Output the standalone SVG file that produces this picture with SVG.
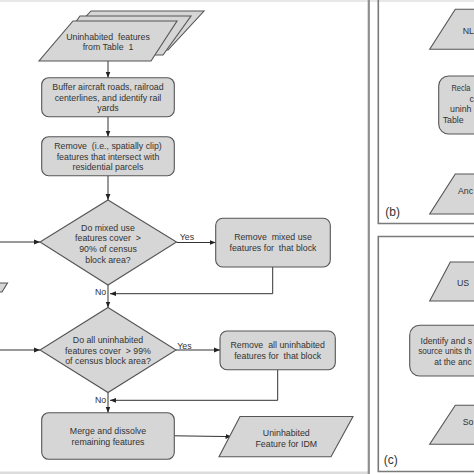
<svg xmlns="http://www.w3.org/2000/svg" width="474" height="474" viewBox="0 0 474 474">
<defs>
<marker id="ah" viewBox="0 0 10 10" refX="10" refY="5" markerWidth="6" markerHeight="6" orient="auto" markerUnits="userSpaceOnUse">
<path d="M0,1 L10,5 L0,9 z" fill="#222"/>
</marker>
<style>
.s{fill:#d6d6d6;stroke:#555;stroke-width:1.1}
.t{font-family:"Liberation Sans",Arial,sans-serif;font-size:8.8px;fill:#333;text-anchor:middle;white-space:pre}
.ts{font-family:"Liberation Sans",Arial,sans-serif;font-size:8.8px;fill:#333;text-anchor:start}
.lb{font-family:"Liberation Sans",Arial,sans-serif;font-size:12px;fill:#333}
.c{fill:none;stroke:#333;stroke-width:1}
.ca{fill:none;stroke:#333;stroke-width:1;marker-end:url(#ah)}
.fr{fill:none;stroke:#7a7a7a;stroke-width:1.6}
</style>
</defs>
<rect width="474" height="474" fill="#fff"/>
<rect x="0" y="0" width="474" height="2" fill="#e8e8e8"/>
<rect x="0" y="471.5" width="368" height="2.5" fill="#dcdcdc"/>
<line x1="368.8" y1="0" x2="368.8" y2="474" stroke="#8f8f8f" stroke-width="2.2"/>
<g id="frames">
<polyline class="fr" points="474,223.5 378.3,223.5 378.3,0"/>
<polyline class="fr" points="474,236.5 378.3,236.5 378.3,471.5 474,471.5"/>
</g>
<g id="connectors">
<line class="ca" x1="108" y1="61" x2="108" y2="77.7"/>
<line class="ca" x1="108" y1="116.7" x2="108" y2="136.7"/>
<line class="ca" x1="108" y1="175.7" x2="108" y2="200"/>
<line class="ca" x1="108" y1="285" x2="108" y2="307.5"/>
<line class="ca" x1="108" y1="392.5" x2="108" y2="412.7"/>
<line class="ca" x1="0" y1="242" x2="40" y2="242"/>
<line class="ca" x1="0" y1="350" x2="40" y2="350"/>
<line class="ca" x1="176.5" y1="242.5" x2="215.7" y2="242.5"/>
<line class="ca" x1="176" y1="350" x2="220" y2="350"/>
<polyline class="ca" points="272.7,267 272.7,293.7 110,293.7"/>
<polyline class="ca" points="277.7,369.7 277.7,400.3 110,400.3"/>
<line class="ca" x1="174.3" y1="435.8" x2="231.5" y2="436.6"/>
<text class="t" x="187" y="240">Yes</text>
<text class="t" x="184.5" y="348.5">Yes</text>
<text class="t" x="100.5" y="295.2">No</text>
<text class="t" x="100.5" y="402.5">No</text>
</g>
<g id="edge-shape">
<polyline class="s" points="0,283 7.5,283 2,292 0,292"/>
</g>
<g id="input">
<polygon class="s" points="91,11 204,11 168,50 55,50"/>
<polygon class="s" points="80,16 191,16 163,55 52,55"/>
<polygon class="s" points="73,21 177,21 151,61 39,61"/>
<text class="t" x="108" y="39.9">Uninhabited  features</text>
<text class="t" x="108" y="50.2">from Table  1</text>
</g>
<g id="buffer">
<rect class="s" x="41.7" y="77.7" width="132.6" height="39" rx="7"/>
<text class="t" x="108" y="89.9">Buffer aircraft roads, railroad</text>
<text class="t" x="108" y="100.5">centerlines, and identify rail</text>
<text class="t" x="108" y="110.9">yards</text>
</g>
<g id="clip">
<rect class="s" x="41.7" y="136.7" width="132.6" height="39" rx="7"/>
<text class="t" x="108" y="148.9">Remove  (i.e., spatially clip)</text>
<text class="t" x="108" y="159.5">features that intersect with</text>
<text class="t" x="108" y="169.9">residential parcels</text>
</g>
<g id="decision1">
<polygon class="s" points="108,200 176.5,242 108,285 40,242"/>
<text class="t" x="108" y="230.9">Do mixed use</text>
<text class="t" x="108" y="241.3">features cover  &gt;</text>
<text class="t" x="108" y="251.9">90% of census</text>
<text class="t" x="108" y="262.5">block area?</text>
</g>
<g id="remove-mixed">
<rect class="s" x="215.7" y="218.3" width="114.6" height="48.7" rx="7"/>
<text class="t" x="273" y="239.9">Remove  mixed use</text>
<text class="t" x="273" y="250.9">features for  that block</text>
</g>
<g id="decision2">
<polygon class="s" points="108,307.5 176,350 108,392.5 40,350"/>
<text class="t" x="108" y="342.5">Do all uninhabited</text>
<text class="t" x="108" y="353.5">features cover  &gt; 99%</text>
<text class="t" x="108" y="364.2">of census block area?</text>
</g>
<g id="remove-all">
<rect class="s" x="220" y="331" width="115.3" height="38.7" rx="7"/>
<text class="t" x="277.7" y="347.9">Remove  all uninhabited</text>
<text class="t" x="277.7" y="358.5">features for  that block</text>
</g>
<g id="merge">
<rect class="s" x="41.7" y="412.7" width="132.6" height="46.6" rx="7"/>
<text class="t" x="108" y="433.9">Merge and dissolve</text>
<text class="t" x="108" y="444.5">remaining features</text>
</g>
<g id="output">
<polygon class="s" points="240,416.5 353,416.5 331,456.8 219,456.8"/>
<text class="t" x="286.3" y="435.5">Uninhabited</text>
<text class="t" x="286.3" y="446.5">Feature for IDM</text>
</g>
<g id="b-nl">
<polygon class="s" points="455.3,9.3 500,9.3 480,49.3 429.7,49.3"/>
<text class="ts" x="462.7" y="33.5">NL</text>
</g>
<g id="b-reclass">
<rect class="s" x="438.7" y="76" width="80" height="58" rx="10"/>
<text class="ts" x="451.5" y="91.2" textLength="19" lengthAdjust="spacingAndGlyphs">Recla</text>
<text class="ts" x="469.5" y="101.5">c</text>
<text class="ts" x="450" y="112.2" textLength="21.5" lengthAdjust="spacingAndGlyphs">uninh</text>
<text class="ts" x="442.7" y="122.5">Table</text>
</g>
<g id="b-anc">
<polygon class="s" points="455.3,174 500,174 480,214 429.7,214"/>
<text class="ts" x="458" y="193.9">Anc</text>
</g>
<text class="lb" x="385.3" y="216">(b)</text>
<g id="c-us">
<polygon class="s" points="450.3,262 500,262 480,301 429.7,301"/>
<text class="ts" x="457" y="285.9">US</text>
</g>
<g id="c-identify">
<rect class="s" x="409.7" y="325.3" width="100" height="50.7" rx="10"/>
<text class="ts" x="420.5" y="343.5" textLength="51.5" lengthAdjust="spacingAndGlyphs">Identify and s</text>
<text class="ts" x="418.2" y="354.2" textLength="53" lengthAdjust="spacingAndGlyphs">source units th</text>
<text class="ts" x="434.2" y="364.9" textLength="37.5" lengthAdjust="spacingAndGlyphs">at the anc</text>
</g>
<g id="c-so">
<polygon class="s" points="455.3,405.3 500,405.3 480,444.3 429.7,444.3"/>
<text class="ts" x="462.7" y="424.5">So</text>
</g>
<text class="lb" x="383.7" y="464">(c)</text>
</svg>
